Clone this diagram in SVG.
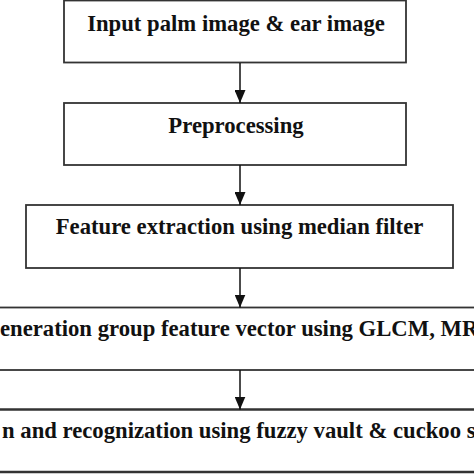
<svg xmlns="http://www.w3.org/2000/svg" width="474" height="474" viewBox="0 0 474 474">
<defs>
<style>
.box{fill:#fff;stroke:#333;stroke-width:1.8}
.t{font-family:"Liberation Serif","Times New Roman",serif;font-weight:bold;font-size:22.7px;fill:#111}
.c{stroke:#111;stroke-width:1.5;fill:none}
</style>
<marker id="ah" markerWidth="13" markerHeight="11" refX="13" refY="5.5" orient="auto" markerUnits="userSpaceOnUse" viewBox="0 0 13 11">
<path d="M0,0 L13,5.5 L0,11 Z" fill="#111"/>
</marker>
</defs>
<rect width="474" height="474" fill="#fff"/>
<g id="node1"><rect class="box" x="64" y="0.5" width="342" height="62"/><text class="t" x="236" y="31" text-anchor="middle">Input palm image &amp; ear image</text></g>
<g id="node2"><rect class="box" x="64" y="103" width="342" height="62"/><text class="t" x="236" y="133" text-anchor="middle">Preprocessing</text></g>
<g id="node3"><rect class="box" x="26" y="205" width="427" height="63"/><text class="t" x="239.5" y="234" text-anchor="middle">Feature extraction using median filter</text></g>
<g id="node4"><rect class="box" x="-5" y="307.5" width="484" height="62.5"/><text class="t" x="0" y="336">eneration group feature vector using GLCM, MR</text></g>
<g id="node5"><rect class="box" x="-5" y="409.5" width="484" height="62.5" style="stroke-width:2.5"/><text class="t" x="2" y="438">n and recognization using fuzzy vault &amp; cuckoo s</text></g>
<g id="connectors">
<line class="c" x1="240" y1="63" x2="240" y2="103" marker-end="url(#ah)"/>
<line class="c" x1="240" y1="165" x2="240" y2="205" marker-end="url(#ah)"/>
<line class="c" x1="240" y1="268" x2="240" y2="307.5" marker-end="url(#ah)"/>
<line class="c" x1="240" y1="370" x2="240" y2="409.5" marker-end="url(#ah)"/>
</g>
</svg>
